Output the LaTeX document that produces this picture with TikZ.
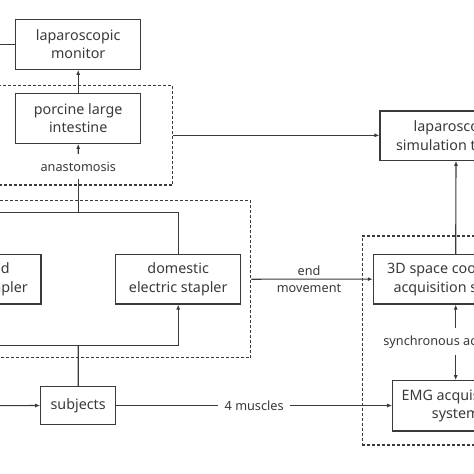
\documentclass[tikz,border=0pt]{standalone}
\usepackage{fontspec}
\setmainfont{Noto Sans}
\usetikzlibrary{arrows.meta}
\definecolor{ink}{HTML}{3A3A3A}
\begin{document}
\begin{tikzpicture}[x=1pt,y=-1pt,
  box/.style={draw=ink, line width=1.1pt, align=center, inner sep=0pt, text=ink,
    font=\fontsize{14.3}{18.5}\selectfont},
  lbl/.style={align=center, inner sep=0pt, text=ink, font=\fontsize{12.7}{17.3}\selectfont},
  group/.style={draw=ink, line width=1.1pt, dash pattern=on 3pt off 2pt, inner sep=0pt},
  conn/.style={draw=ink, line width=1.1pt},
  arr/.style={conn, -{Latex[length=5pt,width=4pt]}}]
\useasboundingbox (0,0) rectangle (474,474);
\fill[white] (0,0) rectangle (474,474);
\clip (0,0) rectangle (474,474);
% groups
\node[group, minimum width=189pt, minimum height=99.3pt] (g1) at (78.2,135.35) {};
\node[group, minimum width=344.8pt, minimum height=157pt] (g2) at (78.3,279.2) {};
\node[group, minimum width=186.8pt, minimum height=209pt] (g3) at (455.7,340.5) {};
% boxes
\node[box, minimum width=125pt, minimum height=50.3pt] (monitor) at (78.2,44.2) {laparoscopic\\monitor};
\node[box, minimum width=125pt, minimum height=50pt] (porcine) at (78.2,118.3) {porcine large\\intestine};
\node[lbl, minimum height=25pt] (anast) at (78.3,166.5) {anastomosis};
\node[box, minimum width=152pt, minimum height=49.3pt] (sim) at (456,135.65) {laparoscopic\\simulation trainer};
\node[box, minimum width=125pt, minimum height=49.7pt] (imported) at (-21.5,279.15) {imported\\electric stapler};
\node[box, minimum width=125pt, minimum height=49.7pt] (domestic) at (178.2,279.15) {domestic\\electric stapler};
\node[box, minimum width=164.8pt, minimum height=49.7pt] (coord) at (455.7,279.15) {3D space coordinate\\acquisition system};
\node[lbl, minimum height=27pt] (sync) at (455.7,341.7) {synchronous acquisition};
\node[box, minimum width=126pt, minimum height=50.3pt] (emg) at (455.7,405.85) {EMG acquisition\\system};
\node[box, minimum width=75pt, minimum height=37.6pt] (subj) at (78.2,405.5) {subjects};
% free ends and junctions
\coordinate (mL) at (-10,44.2);
\coordinate (sL) at (-10,405.7);
\coordinate (top) at (78.3,212.3);
\coordinate (bot) at (78.3,345.3);
% connectors
\draw[conn] (monitor.west) -- (mL);
\draw[arr] (porcine.north) -- (monitor.south);
\draw[arr] (anast.north) -- (porcine.south);
\draw[arr] (g1.east) -- (g1.east -| sim.west);
\draw[arr] (coord.north) -- (sim.south);
\draw[conn] (anast.south) -- (top);
\draw[conn] (imported.north) |- (top) -| (domestic.north);
\draw[conn] (subj.north) -- (bot);
\draw[arr] (bot) -| (domestic.south);
\draw[arr] (bot) -| (imported.south);
\draw[arr] (g2.east) -- node[lbl, xshift=-3pt]{end\\movement} (coord.west);
\draw[arr] (sync.north) -- (coord.south);
\draw[arr] (sync.south) -- (emg.north);
\draw[arr] (sL) -- (subj.west);
\draw[arr] (subj.east) -- node[lbl, fill=white, inner xsep=6.5pt]{4 muscles} (subj.east -| emg.west);
\end{tikzpicture}
\end{document}
